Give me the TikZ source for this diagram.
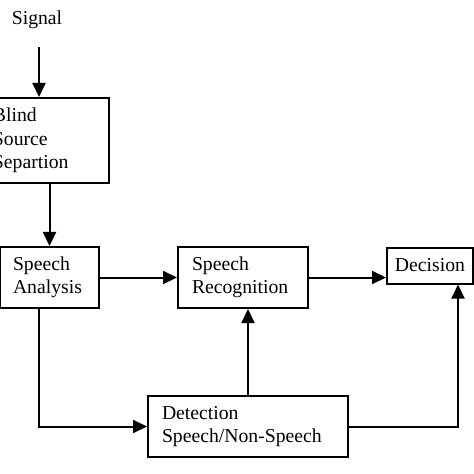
\documentclass[tikz,border=0pt]{standalone}
\usepackage{fontspec}
\setmainfont{Liberation Serif}
\usetikzlibrary{arrows.meta,positioning,calc}

\begin{document}
\begin{tikzpicture}[x=1bp,y=-1bp,
blk/.style={draw,line width=2bp,align=left,inner xsep=13bp,inner ysep=0pt},
every node/.style={font=\fontsize{19.7bp}{23.5bp}\selectfont},
flow/.style={line width=2bp,-{Triangle[length=14bp,width=13bp]}}]
\useasboundingbox (0,0) rectangle (474,474);
\node (sig) at (37,20) {Signal};
\node [blk,text width=103bp,minimum height=85bp] (bss) at (44.5,140.5) {Blind\\Source\\Separtion};
\node [blk,text width=73bp,minimum height=61bp] (ana) at (49.5,277.5) {Speech\\Analysis};
\node [blk,inner xsep=14bp,text width=102bp,minimum height=61bp] (rec) at (243,277.5) {Speech\\Recognition};
\node [blk,align=center,inner xsep=0pt,minimum width=86bp,minimum height=36bp] (dec) at (430,265.5) {Decision};
\node [blk,inner xsep=14bp,text width=172bp,minimum height=61bp] (det) at (248,426.5) {Detection\\Speech/Non-Speech};
\draw [flow] ([xshift=2bp]sig.south) ++(0,15) -- ([xshift=2bp]sig.south |- bss.north);
\draw [flow] (ana.north |- bss.south) -- (ana.north);
\draw [flow] (ana.east) -- (rec.west);
\draw [flow] ([xshift=-10.5bp]ana.south) |- (det.west);
\draw [flow] (det.north) -- (det.north |- rec.south);
\draw [flow] (rec.east) -- (rec.east -| dec.west);
\draw [flow] (det.east) -| ([xshift=28bp]dec.south);
\end{tikzpicture}
\end{document}
